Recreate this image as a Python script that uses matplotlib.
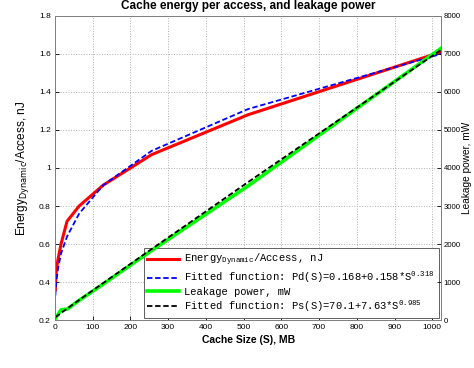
import matplotlib
matplotlib.use('Agg')
import matplotlib.pyplot as plt
from matplotlib.font_manager import FontProperties
import numpy as np

# cache sizes, MB
sizes = [1, 2, 4, 8, 16, 32, 64, 128, 256, 512, 1024]

# dynamic energy per access, nJ (left axis)
energy_dyn = [0.36, 0.42, 0.47, 0.52, 0.60, 0.72, 0.80, 0.91, 1.07, 1.28, 1.61]
energy_fit = [0.33, 0.37, 0.41, 0.47, 0.55, 0.64, 0.76, 0.91, 1.09, 1.31, 1.60]

# leakage power, mW (right axis)
leak_power = [50, 70, 95, 150, 270, 290, 520, 950, 1830, 3530, 7150]
leak_fit = [78, 85, 100, 129, 187, 302, 529, 978, 1868, 3630, 7110]

xticks = list(range(0, 1001, 100))
left_ticks = [0.2, 0.4, 0.6, 0.8, 1.0, 1.2, 1.4, 1.6, 1.8]
left_labels = ['0.2', '0.4', '0.6', '0.8', '1', '1.2', '1.4', '1.6', '1.8']
right_ticks = list(range(0, 8001, 1000))

plt.rcParams['font.family'] = ['Liberation Sans', 'DejaVu Sans']
plt.rcParams['mathtext.fontset'] = 'custom'
plt.rcParams['mathtext.rm'] = 'Liberation Mono'
plt.rcParams['mathtext.it'] = 'Liberation Mono'

fig = plt.figure(figsize=(4.74, 3.68), dpi=100)
ax1 = fig.add_axes([0.116, 0.130, 0.815, 0.827])
ax2 = ax1.twinx()

l1, = ax1.plot(sizes, energy_dyn, color='#ff0000', lw=2.2)
l2, = ax1.plot(sizes, energy_fit, color='#0000ff', lw=1.3, ls=(0, (3, 1.5)))
l3, = ax2.plot(sizes, leak_power, color='#00ff00', lw=2.6)
l4, = ax2.plot(sizes, leak_fit, color='black', lw=1.3, ls=(0, (3, 1.5)))

ax1.set_xlim(0, 1024)
ax1.set_ylim(0.2, 1.8)
ax2.set_ylim(0, 8000)
ax1.set_xticks(xticks)
ax1.set_yticks(left_ticks)
ax1.set_yticklabels(left_labels)
ax2.set_yticks(right_ticks)
ax1.grid(True, ls=':', color='#b0b0b0', lw=0.7)

for ax in (ax1, ax2):
    ax.tick_params(direction='in', length=3, labelsize=6, width=0.6, pad=3)
    for s in ax.spines.values():
        s.set_color('#808080')
        s.set_linewidth(0.7)
ax2.tick_params(pad=1.5, labelsize=5.6)

ax1.set_title('Cache energy per access, and leakage power', fontsize=8.5,
              fontweight='bold', pad=5)
ax1.set_xlabel('Cache Size (S), MB', fontsize=7.5, fontweight='bold', labelpad=3)
ax1.set_ylabel(r'Energy$_{\mathsf{Dynamic}}$/Access, nJ', fontsize=8.5,
               labelpad=6, math_fontfamily='dejavusans')
ax2.set_ylabel('Leakage power, mW', fontsize=7.3, labelpad=1)

labels = [r'Energy$_{\mathrm{Dynamic}}$/Access, nJ',
          r'Fitted function: Pd(S)=0.168+0.158*S$^{0.318}$',
          'Leakage power, mW',
          r'Fitted function: Ps(S)=70.1+7.63*S$^{0.985}$']
leg = ax1.legend([l1, l2, l3, l4], labels, loc='lower right',
                 prop=FontProperties(family='Liberation Mono', size=7.6),
                 fancybox=False, framealpha=1, edgecolor='#606060',
                 handlelength=3.0, labelspacing=0.15, borderaxespad=0.25,
                 handletextpad=0.5, borderpad=0.35)
leg.get_frame().set_linewidth(0.7)
leg.set_zorder(5)

fig.savefig('out.png', dpi=100)
